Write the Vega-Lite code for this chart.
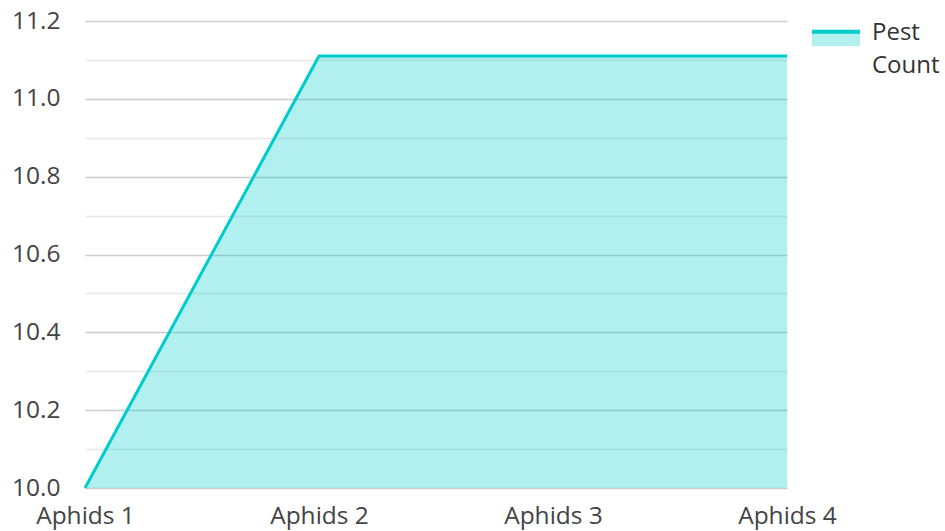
{
  "$schema": "https://vega.github.io/schema/vega-lite/v6.json",
  "autosize": "none",
  "width": 702,
  "height": 467,
  "padding": {"left": 85, "top": 21, "right": 158, "bottom": 43},
  "config": {
    "font": "Open Sans",
    "view": {"stroke": null}
  },
  "data": {
    "values": [
      {"pest": "Aphids 1", "count": 10.0},
      {"pest": "Aphids 2", "count": 11.11},
      {"pest": "Aphids 3", "count": 11.11},
      {"pest": "Aphids 4", "count": 11.11}
    ]
  },
  "encoding": {
    "x": {
      "field": "pest",
      "type": "ordinal",
      "scale": {"type": "point", "padding": 0},
      "axis": {
        "title": null,
        "labelAngle": 0,
        "domain": false,
        "ticks": false,
        "grid": false,
        "labelFontSize": 24.5,
        "labelColor": "#444444",
        "labelPadding": 16
      }
    },
    "y": {
      "field": "count",
      "type": "quantitative",
      "scale": {"domain": [10, 11.2], "zero": false, "nice": false},
      "axis": {
        "title": null,
        "values": [10.0, 10.1, 10.2, 10.3, 10.4, 10.5, 10.6, 10.7, 10.8, 10.9, 11.0, 11.1, 11.2],
        "labelExpr": "round(datum.value*10) % 2 === 0 ? format(datum.value, '.1f') : ''",
        "domain": false,
        "ticks": false,
        "grid": true,
        "gridColor": {"condition": {"test": "round(datum.value*10) % 2 === 0", "value": "#cccccc"}, "value": "#e8e8e8"},
        "gridWidth": 1.5,
        "labelFontSize": 24.5,
        "labelColor": "#444444",
        "labelPadding": 25
      }
    }
  },
  "layer": [
    {
      "mark": {"type": "area", "color": "#00cccc", "fillOpacity": 0.3},
      "encoding": {"y2": {"datum": 10}}
    },
    {
      "mark": {"type": "line", "strokeWidth": 3},
      "encoding": {
        "color": {
          "datum": "Pest Count",
          "scale": {"range": ["#00cccc"]},
          "legend": {
            "title": null,
            "orient": "none",
            "legendX": 725,
            "legendY": -8,
            "symbolType": "M-1,-0.3H1V0.3H-1Z",
            "symbolSize": 2304,
            "symbolStrokeWidth": 4,
            "labelFontSize": 24,
            "labelColor": "#333333",
            "labelOffset": 10,
            "labelExpr": "['Pest', 'Count']",
            "encode": {
              "symbols": {"update": {"fill": {"value": "#b2efef"}, "fillOpacity": {"value": 1}, "strokeDash": {"value": [48, 400]}}},
              "labels": {"update": {"lineHeight": {"value": 33}, "dy": {"value": -6}}}
            }
          }
        }
      }
    }
  ]
}
